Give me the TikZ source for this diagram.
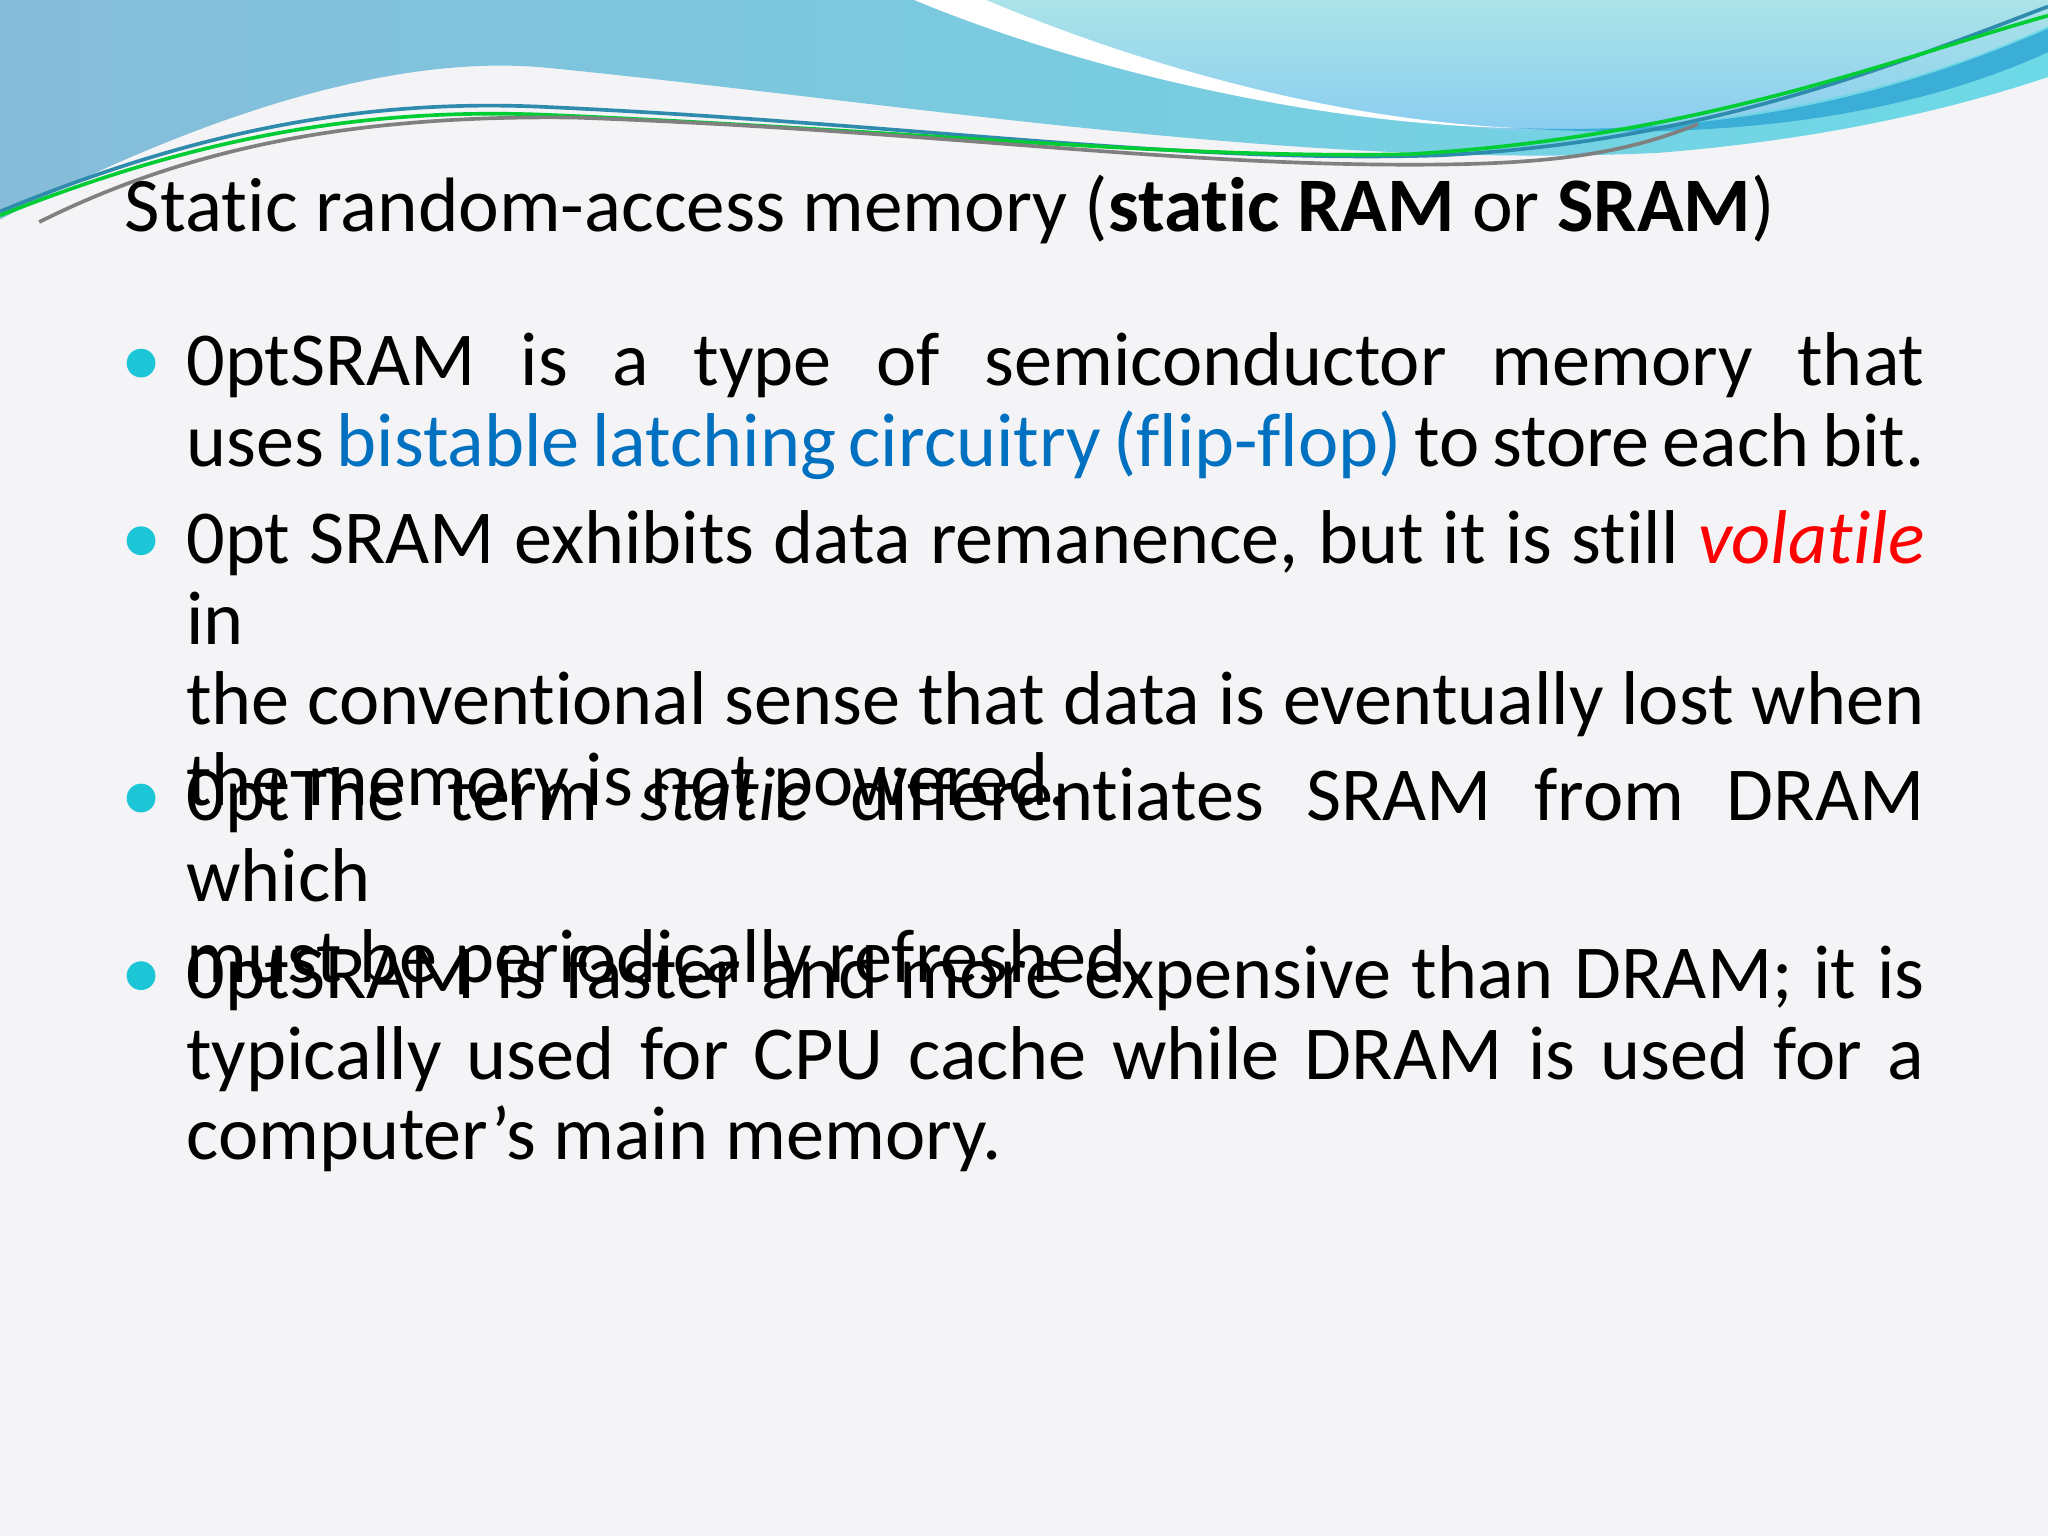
\documentclass[tikz,border=0pt]{standalone}
\usepackage{fontspec}
\setmainfont[Ligatures={NoCommon}]{Carlito}
\definecolor{bgc}{HTML}{F4F4F6}
\definecolor{bluetxt}{HTML}{0070C0}
\definecolor{bul}{HTML}{1DC6D6}
\definecolor{waveA}{HTML}{86BCD9}
\definecolor{waveB}{HTML}{6ED9E6}
\definecolor{waveC}{HTML}{ABE3E8}
\definecolor{waveD}{HTML}{8ACDEF}
\definecolor{waveE}{HTML}{3BAED8}
\tikzset{
  para/.style={anchor=north west, inner sep=0pt, text width=13.30cm, align=justify,
    font=\fontsize{16.6pt}{17.6pt}\selectfont\hyphenpenalty=10000\exhyphenpenalty=10000},
  dot/.style={circle, fill=bul, inner sep=0pt, minimum size=0.22cm},
}
\begin{document}
\begin{tikzpicture}[x=0.01cm,y=-0.01cm]
\fill[bgc] (0,0) rectangle (1568,1176);
\useasboundingbox (0,0) rectangle (1568,1176);
% top wave
\shade[left color=waveA, right color=waveB]
  (0,0) -- (0,168) .. controls (150,90) and (300,40) .. (420,52)
  .. controls (700,80) and (1000,130) .. (1270,117)
  .. controls (1420,105) and (1520,75) .. (1568,59) -- (1568,0) -- cycle;
\shade[top color=waveC, bottom color=waveD]
  (755,0) .. controls (850,40) and (1000,90) .. (1160,100)
  .. controls (1350,100) and (1480,60) .. (1568,20) -- (1568,0) -- cycle;
\fill[waveE] (1160,98) .. controls (1350,105) and (1480,60) .. (1568,22)
  -- (1568,40) .. controls (1480,80) and (1350,110) .. (1160,98) -- cycle;
\fill[white] (700,0) -- (755,0) .. controls (850,40) and (1000,90) .. (1160,98)
  .. controls (1000,95) and (820,50) .. (700,0) -- cycle;
\draw[waveE!80!black, line width=0.8pt]
  (0,162) .. controls (150,100) and (280,75) .. (420,82)
  .. controls (700,95) and (900,125) .. (1100,119)
  .. controls (1300,110) and (1450,50) .. (1568,5);
\draw[green!60!teal, line width=0.8pt]
  (0,165) .. controls (150,105) and (280,82) .. (420,88)
  .. controls (700,100) and (900,122) .. (1080,118)
  .. controls (1300,105) and (1450,45) .. (1568,12);
\draw[gray, line width=0.8pt]
  (30,170) .. controls (150,110) and (280,88) .. (440,90)
  .. controls (720,100) and (900,128) .. (1100,126)
  .. controls (1200,125) and (1250,115) .. (1300,95);
% title
\node[anchor=base west, inner sep=0pt, font=\fontsize{16.8pt}{18pt}\selectfont] (title) at (95,177)
  {Static random-access memory (\textbf{static RAM} or \textbf{SRAM})};
% bullets
\node[para] (p1) at (142,254) {SRAM is a type of semiconductor memory that\linebreak uses \textcolor{bluetxt}{bistable latching circuitry (flip-flop)} to store each bit.};
\node[para] (p2) at (142,390) {\ SRAM exhibits data remanence, but it is still \textcolor{red}{\textit{volatile}} in\linebreak the conventional sense that data is eventually lost when\linebreak the memory is not powered.};
\node[para] (p3) at (142,587) {The term \textit{static} differentiates SRAM from DRAM which\linebreak must be periodically refreshed.};
\node[para] (p4) at (142,723) {SRAM is faster and more expensive than DRAM; it is\linebreak typically used for CPU cache while DRAM is used for a\linebreak computer\char"0027 s main memory.};
\node[dot] (d1) at (108,278) {};
\node[dot] (d2) at (108,414) {};
\node[dot] (d3) at (108,611) {};
\node[dot] (d4) at (108,747) {};
\end{tikzpicture}
\end{document}
